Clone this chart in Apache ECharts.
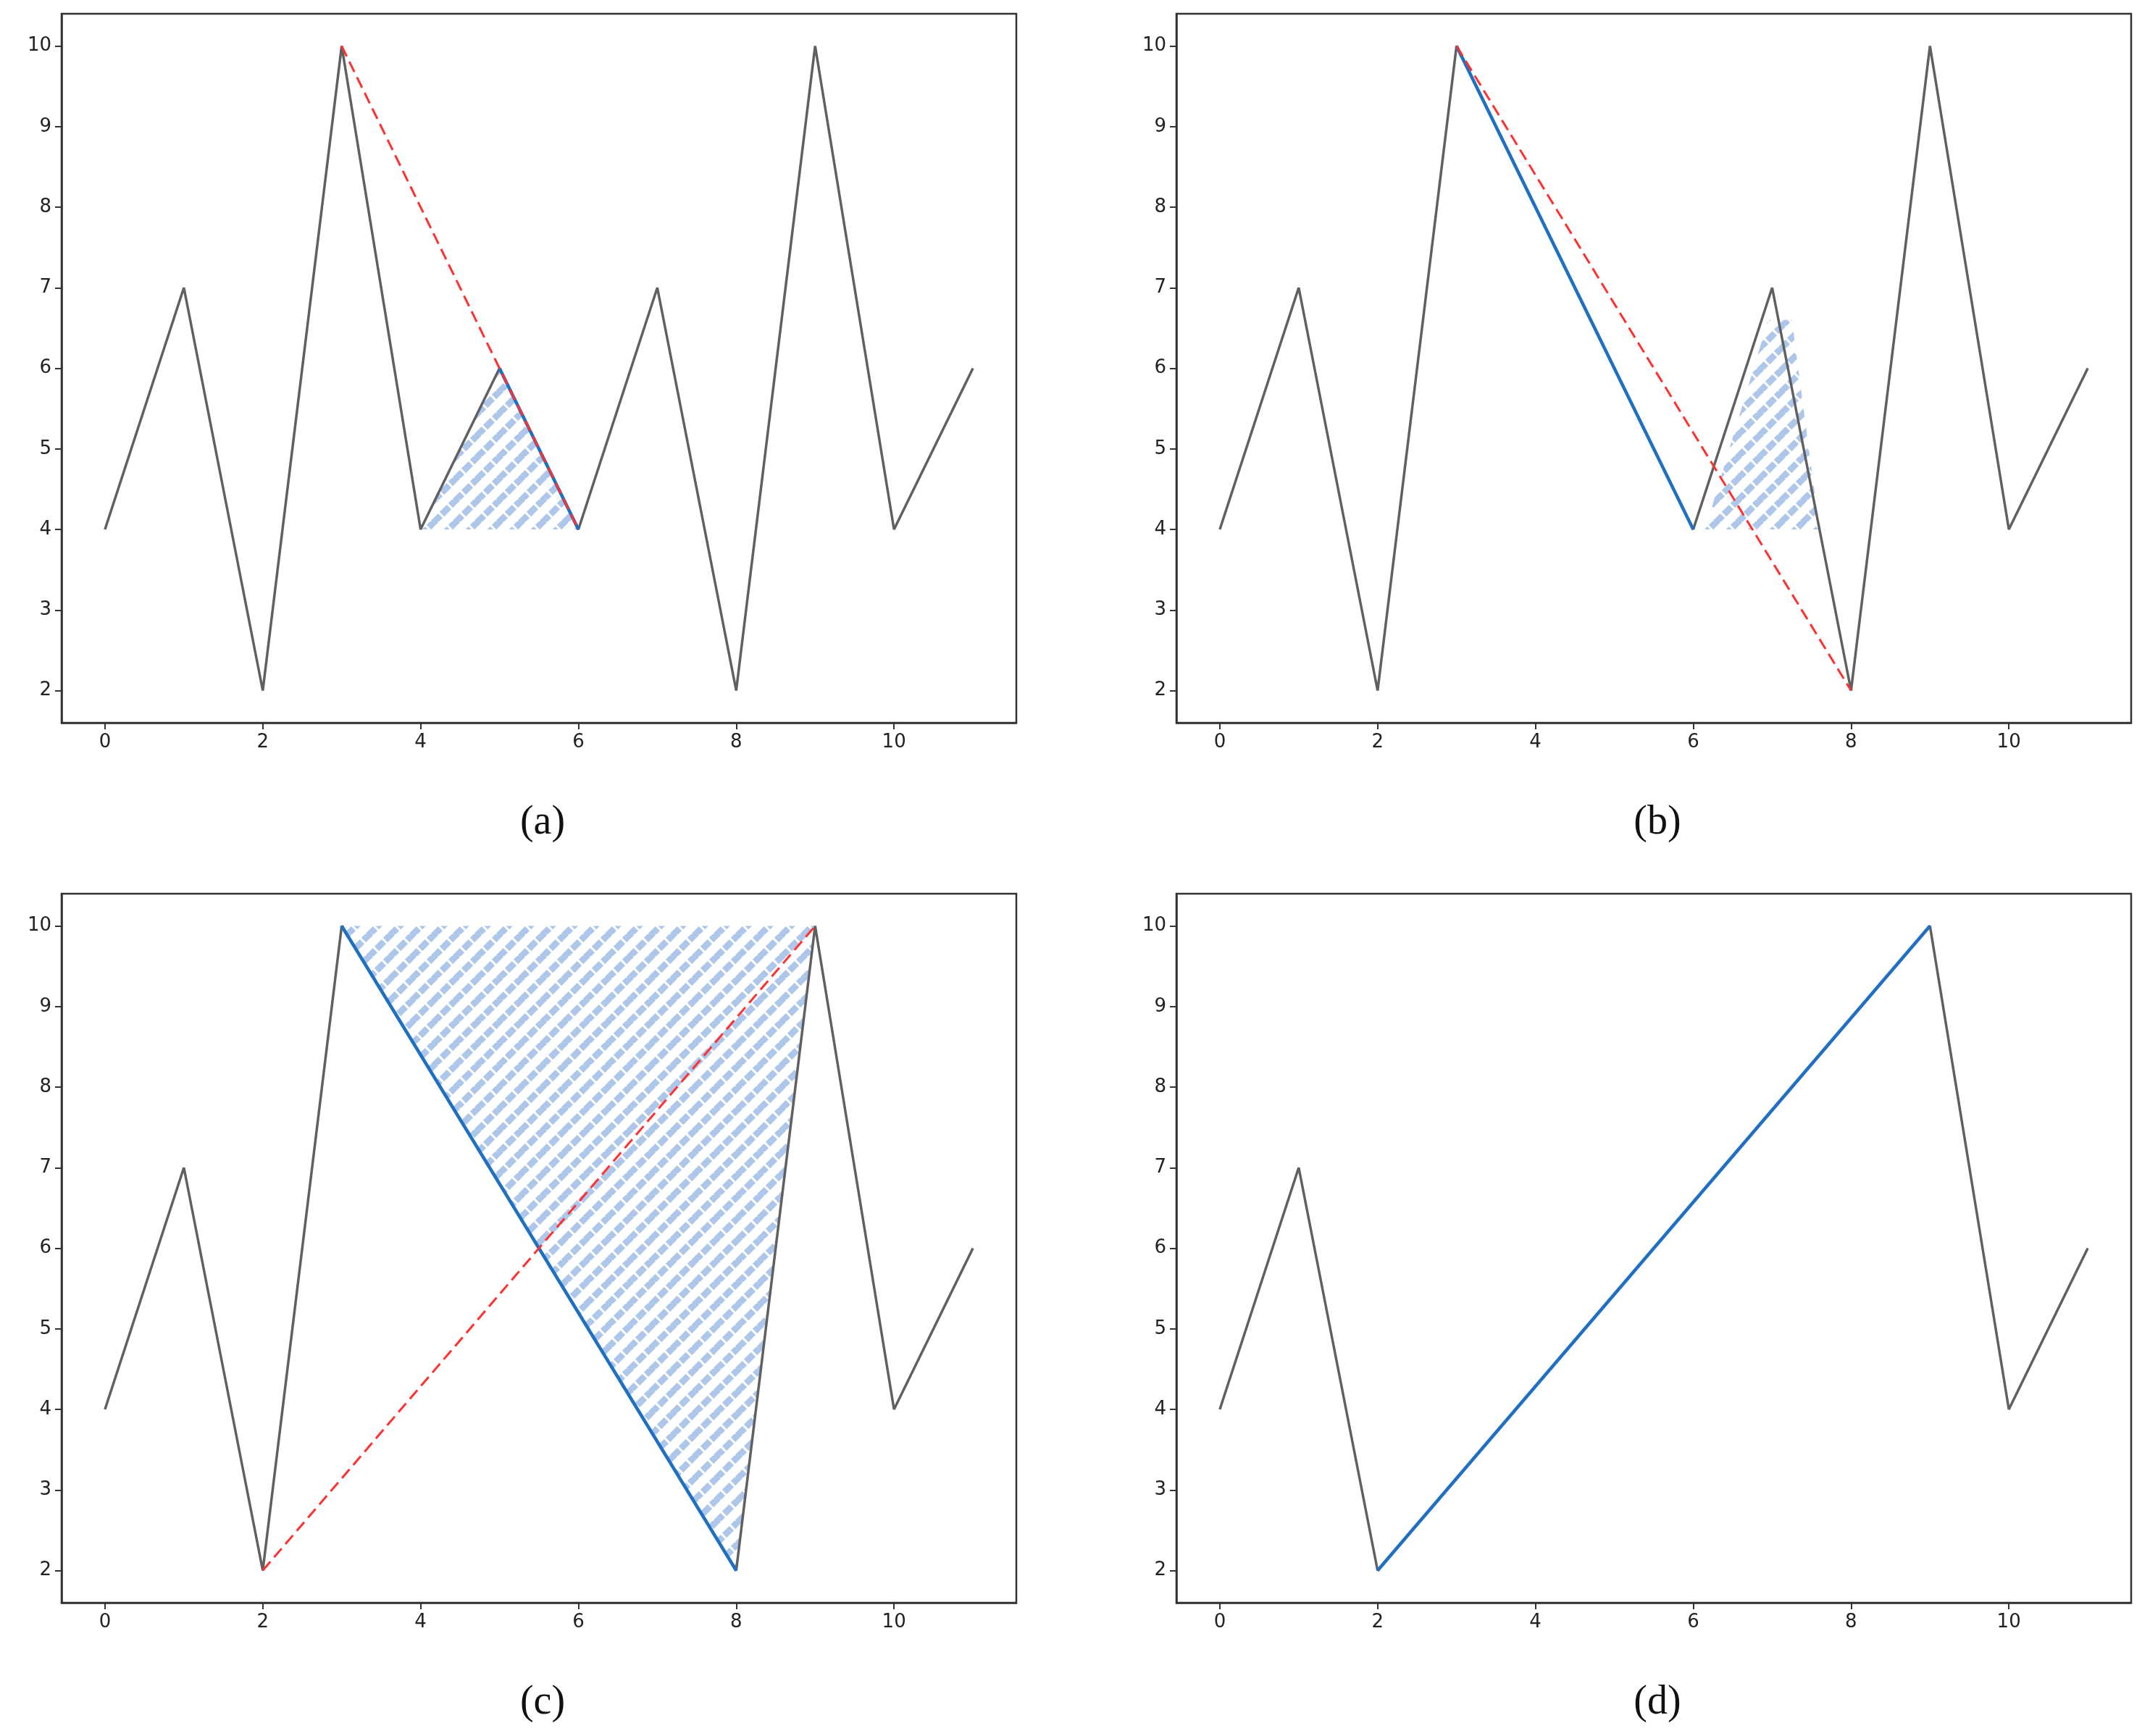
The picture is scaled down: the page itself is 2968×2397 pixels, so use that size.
<!DOCTYPE html>
<html>
<head>
<meta charset="UTF-8" />
<title>zigzag</title>
<script src="https://cdn.jsdelivr.net/npm/echarts@6/dist/echarts.min.js"></script>
<style>
* { margin: 0; padding: 0; }
html, body { width: 2968px; height: 2397px; background: #fff; }
#chart { width: 2968px; height: 2397px; }
</style>
</head>
<body>
<div id="chart"></div>
<script>
// the zigzag
let xs = [0, 1, 2, 3, 4, 5, 6, 7, 8, 9, 10, 11]
let ys = [4, 7, 2, 10, 4, 6, 4, 7, 2, 10, 4, 6]
let xTicks = [0, 2, 4, 6, 8, 10]
let yTicks = [2, 3, 4, 5, 6, 7, 8, 9, 10]
let panelNames = ['(a)', '(b)', '(c)', '(d)']

// which zigzag points are kept in each panel (the rest were merged away)
let keptX = [
  [0, 1, 2, 3, 4, 5, 6, 7, 8, 9, 10, 11],
  [0, 1, 2, 3, 6, 7, 8, 9, 10, 11],
  [0, 1, 2, 3, 8, 9, 10, 11],
  [0, 1, 2, 9, 10, 11]
]

// per panel extras
let redLines = [[[3, 10], [6, 4]], [[3, 10], [8, 2]], [[2, 2], [9, 10]], null]
let blueLines = [[[5, 6], [6, 4]], [[3, 10], [6, 4]], [[3, 10], [8, 2]], [[2, 2], [9, 10]]]
let hatches = [
  [[4, 4], [5, 6], [6, 4]],
  [[6.15, 4], [6.95, 6.6], [7.25, 6.6], [7.6, 4]],
  [[3, 10], [9, 10], [8, 2]],
  null
]

// stripe pattern
function makeHatch() {
  let c = document.createElement('canvas')
  c.width = 30; c.height = 30
  let g = c.getContext('2d')
  g.strokeStyle = '#aec6ea'
  g.lineWidth = 9
  g.setLineDash([14, 3])
  for (let k = -1; k <= 1; k++) {
    g.beginPath()
    g.moveTo(k * 30 - 2, 32)
    g.lineTo(k * 30 + 32, -2)
    g.stroke()
  }
  return c
}
let hatchImg = makeHatch()

let boxes = [
  { left: 85, top: 19 }, { left: 1624, top: 19 },
  { left: 85, top: 1234 }, { left: 1624, top: 1234 }
]
let W = 1318, H = 979

let chart = echarts.init(document.getElementById('chart'))
let grid = [], xAxis = [], yAxis = [], series = [], title = []

boxes.forEach((b, i) => {
  grid.push({ left: b.left, top: b.top, width: W, height: H, show: true, borderColor: '#333', borderWidth: 2.5, backgroundColor: '#fff' })
  xAxis.push({
    type: 'value', gridIndex: i, min: -0.55, max: 11.55,
    splitLine: { show: false },
    axisLine: { show: true, onZero: false, lineStyle: { color: '#333', width: 2.5 } },
    axisTick: { show: true, inside: false, customValues: xTicks, length: 9, lineStyle: { color: '#333', width: 2 } },
    axisLabel: { customValues: xTicks, fontSize: 26, color: '#222', fontFamily: 'DejaVu Sans', margin: 14 }
  })
  yAxis.push({
    type: 'value', gridIndex: i, min: 1.6, max: 10.4,
    splitLine: { show: false },
    axisLine: { show: true, onZero: false, lineStyle: { color: '#333', width: 2.5 } },
    axisTick: { show: true, inside: false, customValues: yTicks, length: 9, lineStyle: { color: '#333', width: 2 } },
    axisLabel: { customValues: yTicks, fontSize: 26, color: '#222', fontFamily: 'DejaVu Sans', margin: 14 }
  })
  if (hatches[i]) {
    let poly = hatches[i]
    series.push({
      type: 'custom', xAxisIndex: i, yAxisIndex: i, silent: true, z: 1,
      data: [0],
      renderItem: (params, api) => ({
        type: 'polygon',
        shape: { points: poly.map(p => api.coord(p)) },
        style: { fill: { image: hatchImg, repeat: 'repeat' } }
      })
    })
  }
  let pts = keptX[i].map(x => [x, ys[xs.indexOf(x)]])
  series.push({ type: 'line', xAxisIndex: i, yAxisIndex: i, data: pts, symbol: 'none', z: 2,
    lineStyle: { color: '#606060', width: 3.5 } })
  if (blueLines[i]) {
    series.push({ type: 'line', xAxisIndex: i, yAxisIndex: i, data: blueLines[i], symbol: 'none', z: 3,
      lineStyle: { color: '#1f70c1', width: 4.5 } })
  }
  if (redLines[i]) {
    series.push({ type: 'line', xAxisIndex: i, yAxisIndex: i, data: redLines[i], symbol: 'none', z: 4,
      lineStyle: { color: '#ff3030', width: 3, type: [16, 8] } })
  }
  title.push({
    text: panelNames[i], left: b.left + W / 2, top: b.top + H + 105, textAlign: 'center',
    textStyle: { fontFamily: 'Liberation Serif', fontSize: 56, fontWeight: 'normal', color: '#111' }
  })
})

chart.setOption({ backgroundColor: '#fff', animation: false, title, grid, xAxis, yAxis, series })
</script>
</body>
</html>
